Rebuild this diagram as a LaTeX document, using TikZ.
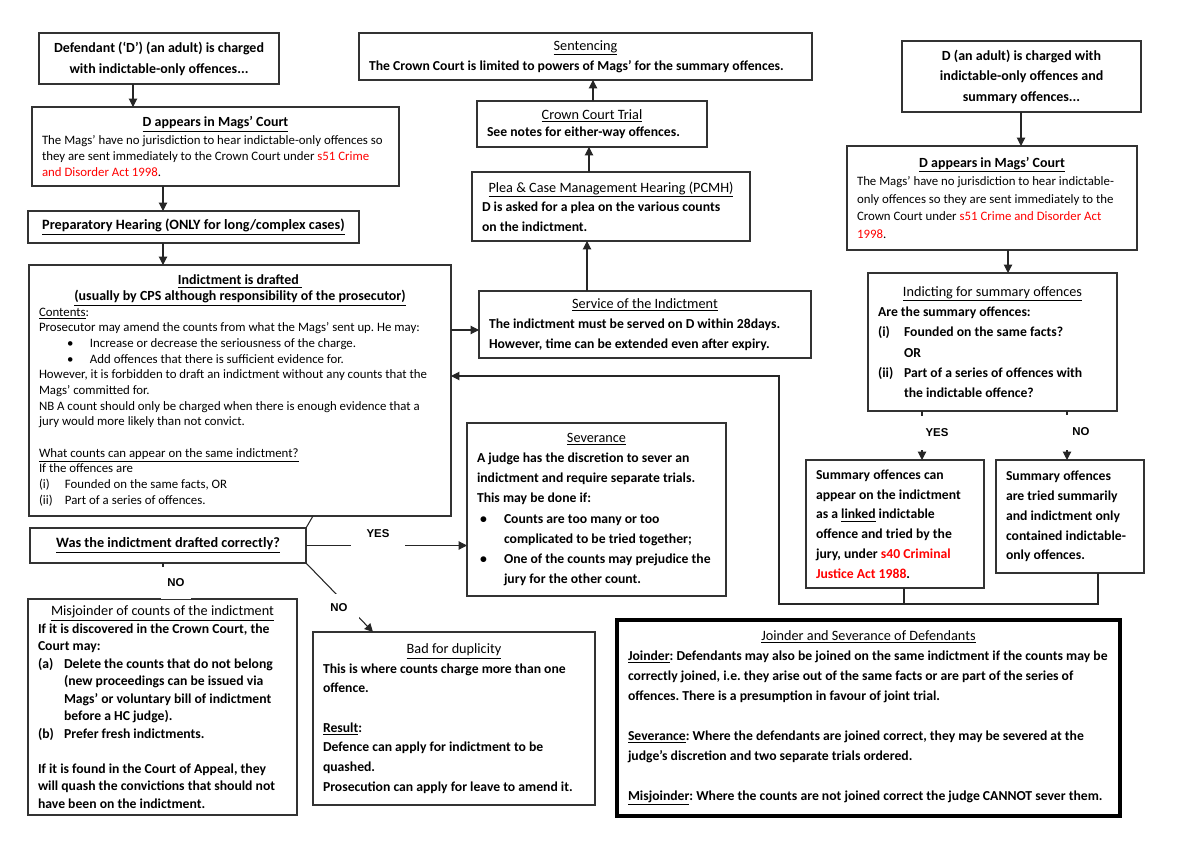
\documentclass[tikz,border=0pt]{standalone}
\usepackage{fontspec}
\setmainfont{Carlito}
\newfontfamily\lblfont{Liberation Sans}
\usetikzlibrary{arrows.meta}
\frenchspacing
\newlength\px
\setlength\px{0.7017pt}
\newcommand\fsz[2]{\fontsize{#1}{#2}\selectfont}
\newcommand\ttlr[2]{\makebox[#1\px]{\fontsize{10}{12}\selectfont\mdseries\underline{#2}}}
\newcommand\ttlb[2]{\makebox[#1\px]{\fontsize{9.8}{12}\selectfont\bfseries\underline{#2}}}
\newcommand\rtxt[1]{\textcolor{red}{#1}}
\newcommand\lbx[2]{\makebox[#1\px][l]{#2}}
\tikzset{
  box/.style={draw=black!80, line width=0.9pt, anchor=north west, inner xsep=10\px, inner ysep=0pt, align=left, outer sep=0pt},
  arr/.style={draw=black!85, line width=0.75pt, -{Triangle[length=5.8pt, width=5.8pt]}},
  ln/.style={draw=black!85, line width=0.75pt},
  lbl/.style={fill=white, inner sep=0pt, font=\lblfont\fontsize{8}{9}\selectfont\bfseries},
}
\begin{document}
\begin{tikzpicture}[x=\px, y=-\px]
\useasboundingbox (0,0) rectangle (1200,848);

% ---------- left column ----------
\node[box, minimum width=240\px, minimum height=51\px, align=center, font=\fsz{9.8}{14.7}\bfseries] (A) at (39,33)
 {Defendant (‘D’) (an adult) is charged\\with indictable-only offences...};

\node[box, minimum width=367\px, minimum height=79\px, font=\fsz{9}{11.2}] (B) at (32,107)
 {\ttlb{347}{D appears in Mags’ Court}\\[1.5pt]
  The Mags’ have no jurisdiction to hear indictable-only offences so\\
  they are sent immediately to the Crown Court under \rtxt{s51 Crime}\\
  \rtxt{and Disorder Act 1998}.};

\node[box, minimum width=331\px, minimum height=32\px, align=center, font=\fsz{10}{12}\bfseries] (C) at (28,211)
 {\underline{Preparatory Hearing (ONLY for long/complex cases)}};

\node[box, minimum width=422\px, minimum height=251\px, font=\fsz{9}{11}] (D) at (29,265)
 {\ttlb{402}{Indictment is drafted\ }\\
  \ttlb{402}{(usually by CPS although responsibility of the prosecutor)}\\
  \underline{Contents}:\\
  Prosecutor may amend the counts from what the Mags’ sent up. He may:\\
  \hspace*{28\px}\lbx{23}{•}Increase or decrease the seriousness of the charge.\\
  \hspace*{28\px}\lbx{23}{•}Add offences that there is sufficient evidence for.\\
  However, it is forbidden to draft an indictment without any counts that the\\
  Mags’ committed for.\\
  NB A count should only be charged when there is enough evidence that a\\
  jury would more likely than not convict.\\
  \mbox{}\\
  \underline{What counts can appear on the same indictment?}\\
  If the offences are\\
  \lbx{26}{(i)}Founded on the same facts, OR\\
  \lbx{26}{(ii)}Part of a series of offences.};

\node[box, minimum width=276\px, minimum height=35\px, align=center, font=\fsz{10}{12}\bfseries] (Q) at (30,528)
 {\underline{Was the indictment drafted correctly?}};

\node[box, minimum width=269\px, minimum height=216\px, font=\fsz{9.6}{12.3}\bfseries] (Mis) at (28,599)
 {\ttlr{249}{Misjoinder of counts of the indictment}\\
  If it is discovered in the Crown Court, the\\
  Court may:\\
  \lbx{26}{(a)}Delete the counts that do not belong\\
  \hspace*{26\px}(new proceedings can be issued via\\
  \hspace*{26\px}Mags’ or voluntary bill of indictment\\
  \hspace*{26\px}before a HC judge).\\
  \lbx{26}{(b)}Prefer fresh indictments.\\
  \mbox{}\\
  If it is found in the Court of Appeal, they\\
  will quash the convictions that should not\\
  have been on the indictment.};

\node[box, minimum width=282\px, minimum height=173\px, font=\fsz{9.6}{13.8}\bfseries] (Bad) at (313,632)
 {\ttlr{262}{Bad for duplicity}\\
  This is where counts charge more than one\\
  offence.\\
  \mbox{}\\
  \underline{Result}:\\
  Defence can apply for indictment to be\\
  quashed.\\
  Prosecution can apply for leave to amend it.};

% ---------- middle column ----------
\node[box, minimum width=453\px, minimum height=47\px, font=\fsz{9.6}{14}\bfseries] (Sent) at (359,33)
 {\ttlr{433}{Sentencing}\\
  The Crown Court is limited to powers of Mags’ for the summary offences.};

\node[box, minimum width=230\px, minimum height=46\px, font=\fsz{9.6}{11.9}\bfseries] (CCT) at (477,101)
 {\ttlr{210}{Crown Court Trial}\\
  See notes for either-way offences.};

\node[box, minimum width=278\px, minimum height=69\px, font=\fsz{9.6}{13.7}\bfseries] (PCMH) at (472,172)
 {\ttlr{258}{Plea \& Case Management Hearing (PCMH)}\\
  D is asked for a plea on the various counts\\
  on the indictment.};

\node[box, minimum width=332\px, minimum height=67\px, font=\fsz{9.6}{14}\bfseries] (Serv) at (479,291)
 {\ttlr{312}{Service of the Indictment}\\
  The indictment must be served on D within 28days.\\
  However, time can be extended even after expiry.};

\node[box, minimum width=259\px, minimum height=173\px, font=\fsz{9.6}{14.1}\bfseries] (Sev) at (467,423)
 {\ttlr{239}{Severance}\\
  A judge has the discretion to sever an\\
  indictment and require separate trials.\\
  This may be done if:\\
  \hspace*{3\px}\lbx{24}{•}Counts are too many or too\\
  \hspace*{27\px}complicated to be tried together;\\
  \hspace*{3\px}\lbx{24}{•}One of the counts may prejudice the\\
  \hspace*{27\px}jury for the other count.};

% ---------- right column ----------
\node[box, minimum width=239\px, minimum height=71\px, align=center, font=\fsz{9.8}{14.4}\bfseries] (R1) at (902,41)
 {D (an adult) is charged with\\indictable-only offences and\\summary offences...};

\node[box, minimum width=290\px, minimum height=104\px, font=\fsz{9}{12.6}] (R2) at (847,146)
 {\ttlb{270}{D appears in Mags’ Court}\\
  The Mags’ have no jurisdiction to hear indictable-\\
  only offences so they are sent immediately to the\\
  Crown Court under \rtxt{s51 Crime and Disorder Act}\\
  \rtxt{1998}.};

\node[box, minimum width=249\px, minimum height=138\px, font=\fsz{9.6}{14.2}\bfseries] (R3) at (868,273)
 {\ttlr{229}{Indicting for summary offences}\\
  Are the summary offences:\\
  \lbx{26}{(i)}Founded on the same facts?\\
  \hspace*{26\px}OR\\
  \lbx{26}{(ii)}Part of a series of offences with\\
  \hspace*{26\px}the indictable offence?};

\node[box, minimum width=178\px, minimum height=128\px, font=\fsz{9.6}{13.9}\bfseries] (Yes) at (806,460)
 {\lbx{158}{Summary offences can}\\
  appear on the indictment\\
  as a \underline{linked} indictable\\
  offence and tried by the\\
  jury, under \rtxt{s40 Criminal}\\
  \rtxt{Justice Act 1988}.};

\node[box, minimum width=148\px, minimum height=113\px, font=\fsz{9.6}{13.9}\bfseries] (No) at (996,460)
 {\lbx{128}{Summary offences}\\
  are tried summarily\\
  and indictment only\\
  contained indictable-\\
  only offences.};

\node[box, line width=3pt, draw=black, minimum width=503\px, minimum height=196\px, inner xsep=11\px, font=\fsz{9.6}{14}\bfseries] (Join) at (617,620)
 {\ttlr{481}{Joinder and Severance of Defendants}\\
  \underline{Joinder}: Defendants may also be joined on the same indictment if the counts may be\\
  correctly joined, i.e. they arise out of the same facts or are part of the series of\\
  offences. There is a presumption in favour of joint trial.\\
  \mbox{}\\
  \underline{Severance}: Where the defendants are joined correct, they may be severed at the\\
  judge’s discretion and two separate trials ordered.\\
  \mbox{}\\
  \underline{Misjoinder}: Where the counts are not joined correct the judge CANNOT sever them.};

% ---------- connectors ----------
\draw[arr] (133,0 |- A.south) -- (133,0 |- B.north);
\draw[arr] (163,0 |- B.south) -- (163,0 |- C.north);
\draw[arr] (163,0 |- C.south) -- (163,0 |- D.north);
\draw[ln] (313,0 |- D.south) -- (Q.north east);
\draw[arr] (Q.east) -- (Sev.west |- Q.east);
\draw[ln] (163,0 |- Q.south) -- (163,0 |- Mis.north);
\draw[arr] (Q.south east) -- (373,0 |- Bad.north);
\draw[arr] (D.east |- 0,330) -- (Serv.west |- 0,330);
\draw[arr] (587,0 |- Serv.north) -- (587,0 |- PCMH.south);
\draw[arr] (589,0 |- PCMH.north) -- (589,0 |- CCT.south);
\draw[arr] (593,0 |- CCT.north) -- (593,0 |- Sent.south);
\draw[arr] (1021,0 |- R1.south) -- (1021,0 |- R2.north);
\draw[arr] (1008,0 |- R2.south) -- (1008,0 |- R3.north);
\draw[arr] (922,0 |- R3.south) -- (922,0 |- Yes.north);
\draw[arr] (1067,0 |- R3.south) -- (1067,0 |- No.north);
\coordinate (jn) at (904,604);
\draw[ln] (1098,0 |- No.south) |- (jn);
\draw[arr] (904,0 |- Yes.south) -- (jn) -| (779,376) -- (D.east |- 0,376);

% ---------- connector labels ----------
\node[lbl, minimum width=54\px, text depth=11\px, anchor=base] (ly1) at (378,537) {YES};
\node[lbl, minimum width=30\px, minimum height=32\px] (ln1) at (176,583) {NO};
\node[lbl, minimum width=40\px, minimum height=28\px] (ln2) at (339,608) {NO};
\node[lbl, minimum width=38\px, minimum height=34\px] (ly2) at (937,433) {YES};
\node[lbl, minimum width=36\px, minimum height=35\px] (ln3) at (1081,432) {NO};
\end{tikzpicture}
\end{document}
